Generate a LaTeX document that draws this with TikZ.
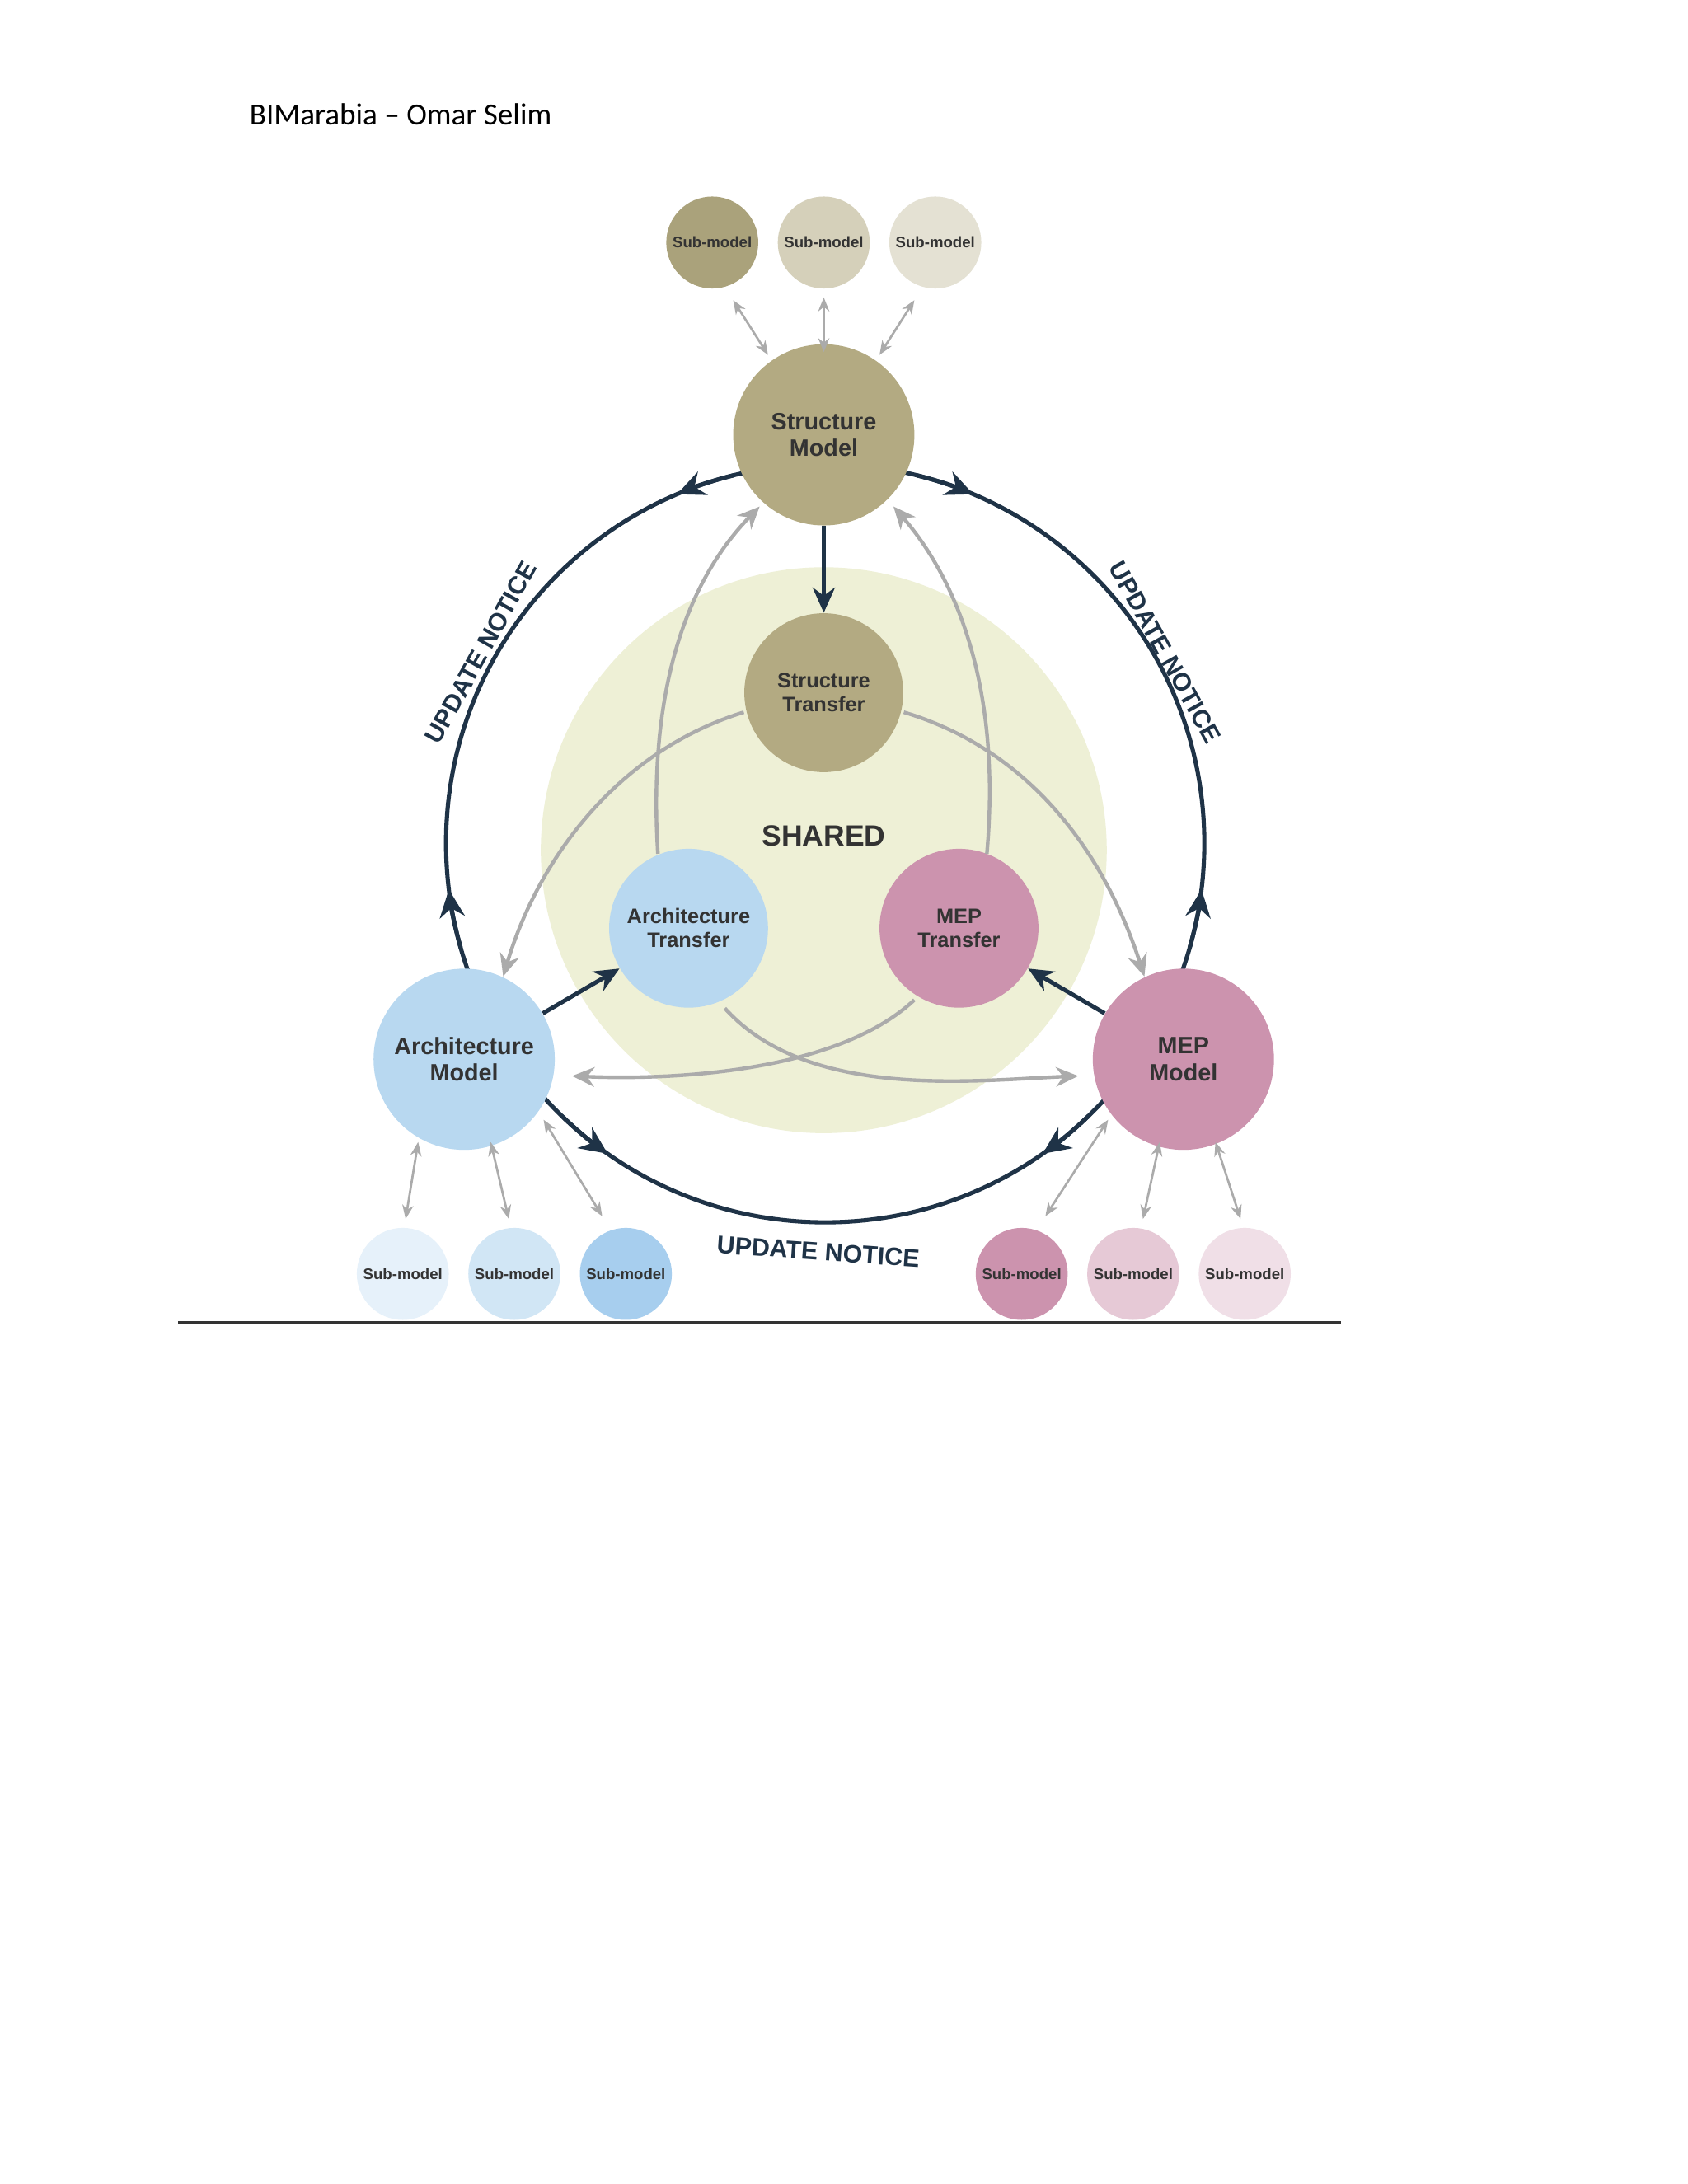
\documentclass[tikz,border=0pt]{standalone}
\usepackage{fontspec}
\setmainfont{Liberation Sans}
\newfontfamily\hdr{Carlito}
\usetikzlibrary{arrows.meta,calc}
\definecolor{navy}{HTML}{1F3347}
\definecolor{gline}{HTML}{ABABAB}
\definecolor{tan}{HTML}{B3AA82}
\definecolor{blu}{HTML}{B8D8F0}
\definecolor{blu3}{HTML}{A7CEEE}
\definecolor{pnk}{HTML}{CC93AE}
\definecolor{shared}{HTML}{EEF0D6}
\definecolor{txt}{HTML}{333333}
\tikzset{
 model/.style={circle,minimum size=65pt,inner sep=0,align=center,font=\bfseries\fontsize{8.5}{9.5}\selectfont,text=txt},
 transf/.style={circle,minimum size=57pt,inner sep=0,align=center,font=\bfseries\fontsize{7.5}{8.5}\selectfont,text=txt},
 sub/.style={circle,minimum size=33pt,inner sep=0,font=\bfseries\fontsize{5.5}{6}\selectfont,text=txt},
 dark/.style={navy,line width=1.5pt,-{Stealth[length=9pt,width=8pt]}},
 gray/.style={gline,line width=1.3pt,-{Stealth[length=8pt,width=7pt]}},
 gsub/.style={gline,line width=0.8pt,{Stealth[length=5pt,width=4pt]}-{Stealth[length=5pt,width=4pt]}},
 upd/.style={font=\bfseries\fontsize{9}{10}\selectfont,text=navy},
 tip/.style={navy,line width=1.5pt,-{Stealth[length=10pt,width=9pt]}}
}
\begin{document}
\begin{tikzpicture}[x=0.5pt,y=0.5pt]
\fill[white] (0,0) rectangle (1211,-1567);
\node[anchor=west,font=\hdr\fontsize{11}{12}\selectfont] (hdr) at (172,-82) {BIMarabia – Omar Selim};
\draw[black!80,line width=1pt] (128,-949) -- (962,-949);
\fill[shared] (591,-610) circle (203);
\coordinate (c) at (592,-605);
\draw[navy,line width=1.5pt] (c) circle (272);
% arrowheads on ring
\draw[tip] ($(c)+(104:272)$) arc[start angle=104,end angle=113,radius=272];
\draw[tip] ($(c)+(76:272)$) arc[start angle=76,end angle=67,radius=272];
\draw[tip] ($(c)+(196:272)$) arc[start angle=196,end angle=187,radius=272];
\draw[tip] ($(c)+(344:272)$) arc[start angle=344,end angle=353,radius=272];
\draw[tip] ($(c)+(226:272)$) arc[start angle=226,end angle=235,radius=272];
\draw[tip] ($(c)+(314:272)$) arc[start angle=314,end angle=305,radius=272];
\node[upd,rotate=61] (u1) at (345,-468) {UPDATE NOTICE};
\node[upd,rotate=-61] (u2) at (836,-468) {UPDATE NOTICE};
\node[upd,rotate=-4] (u3) at (587,-898) {UPDATE NOTICE};
% nodes
\node[model,fill=tan] (sm) at (591,-312) {Structure\\Model};
\node[model,fill=blu] (am) at (333,-760) {Architecture\\Model};
\node[model,fill=pnk] (mm) at (849,-760) {MEP\\Model};
\node[transf,fill=tan] (st) at (591,-497) {Structure\\Transfer};
\node[transf,fill=blu] (at) at (494,-666) {Architecture\\Transfer};
\node[transf,fill=pnk] (mt) at (688,-666) {MEP\\Transfer};
\node[font=\bfseries\fontsize{10.5}{12}\selectfont,text=txt] (sh) at (591,-600) {SHARED};
% subs
\node[sub,fill=tan!95!black] (s1) at (511,-174) {Sub-model};
\node[sub,fill=tan!55] (s2) at (591,-174) {Sub-model};
\node[sub,fill=tan!35] (s3) at (671,-174) {Sub-model};
\node[sub,fill=blu!35] (a1) at (289,-914) {Sub-model};
\node[sub,fill=blu!65] (a2) at (369,-914) {Sub-model};
\node[sub,fill=blu3] (a3) at (449,-914) {Sub-model};
\node[sub,fill=pnk] (m1) at (733,-914) {Sub-model};
\node[sub,fill=pnk!50] (m2) at (813,-914) {Sub-model};
\node[sub,fill=pnk!30] (m3) at (893,-914) {Sub-model};
% sub arrows
\draw[gsub] ($(s1.south)+(15,-8)$) -- ($(sm.north)+(-40,-8)$);
\draw[gsub] ($(s2.south)+(0,-6)$) -- ($(sm.north)+(0,-6)$);
\draw[gsub] ($(s3.south)+(-15,-8)$) -- ($(sm.north)+(40,-8)$);
\draw[gsub] ($(a1.north)+(2,6)$) -- ($(am.south)+(-33,6)$);
\draw[gsub] ($(a2.north)+(-4,6)$) -- ($(am.south)+(19,6)$);
\draw[gsub] ($(a3.north)+(-17,8)$) -- ($(am.south)+(57,22)$);
\draw[gsub] ($(m1.north)+(17,8)$) -- ($(mm.south)+(-54,22)$);
\draw[gsub] ($(m2.north)+(7,6)$) -- ($(mm.south)+(-17,6)$);
\draw[gsub] ($(m3.north)+(-3,6)$) -- ($(mm.south)+(23,6)$);
% dark model->transfer
\draw[dark] (sm) -- (st);
\draw[dark] (am) -- (at);
\draw[dark] (mm) -- (mt);
% gray curves
\draw[gray] ($(at.north)+(-22,-4)$) .. controls (465,-500) and (490,-420) .. ($(sm.south)+(-46,14)$);
\draw[gray] ($(mt.north)+(20,-4)$) .. controls (718,-500) and (690,-420) .. ($(sm.south)+(50,14)$);
\draw[gray] ($(st.west)+(0,-14)$) .. controls (440,-540) and (385,-620) .. ($(am.north)+(28,-6)$);
\draw[gray] ($(st.east)+(0,-14)$) .. controls (745,-540) and (795,-620) .. ($(mm.north)+(-28,-6)$);
\draw[gray] ($(at.south)+(26,0)$) .. controls (580,-790) and (700,-775) .. ($(mm.west)+(-10,-12)$);
\draw[gray] ($(mt.south)+(-32,6)$) .. controls (600,-770) and (480,-775) .. ($(am.east)+(12,-12)$);
\end{tikzpicture}
\end{document}
